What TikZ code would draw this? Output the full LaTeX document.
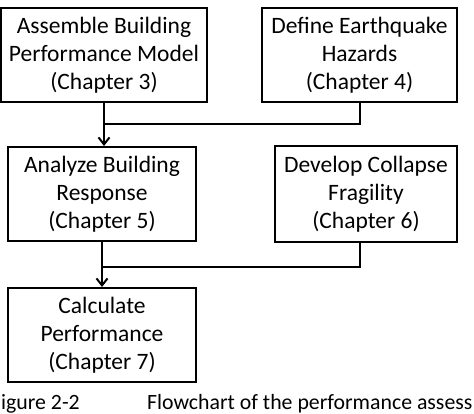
\documentclass[tikz,border=0pt]{standalone}
\usepackage{fontspec}
\setmainfont{Carlito}
\usetikzlibrary{positioning,arrows.meta}

\begin{document}
\begin{tikzpicture}[x=1pt,y=1pt,font=\fontsize{23.5}{28}\selectfont,>={Straight Barb[length=7pt,width=11pt]}]
    \tikzset{
        block/.style = {rectangle, draw, line width=2pt, align=center, inner sep=0pt},
        link/.style = {line width=2pt},
        caption/.style = {anchor=base west, inner sep=0pt, font=\fontsize{21.8}{26}\selectfont},
    }
    \useasboundingbox (0,0) rectangle (474,-414);

    \node [block, minimum width=206pt, minimum height=94pt] (a1) at (104,-55) {Assemble Building\\Performance Model\\(Chapter 3)};
    \node [block, minimum width=195pt, minimum height=94pt, right=53pt of a1] (b1) {Define Earthquake\\Hazards\\(Chapter 4)};

    \node [block, minimum width=188pt, minimum height=94pt, below=43pt of a1.south, anchor=north, xshift=-2pt] (c1) {Analyze Building\\Response\\(Chapter 5)};
    \node [block, minimum width=182pt, minimum height=96pt, right=77pt of c1] (d1) {Develop Collapse\\Fragility\\(Chapter 6)};

    \node [block, minimum width=188pt, minimum height=94pt, below=45pt of c1] (e1) {Calculate\\Performance\\(Chapter 7)};

    % junctions between the rows
    \path (a1.south) -- (a1.south |- c1.north) coordinate[midway] (j1);
    \path (c1.south) -- (c1.south |- e1.north) coordinate[pos=0.55] (j2);

    \draw[link,->] (a1.south) -- (a1.south |- c1.north);
    \draw[link] (b1.south) |- (j1);
    \draw[link,->] (c1.south) -- (e1.north);
    \draw[link] ([xshift=-6pt]d1.south) |- (j2);

    \node [caption] (f1) at (1,-409) {igure 2-2};
    \node [caption] (f2) at (147,-409) {Flowchart of the performance assess};
\end{tikzpicture}
\end{document}
